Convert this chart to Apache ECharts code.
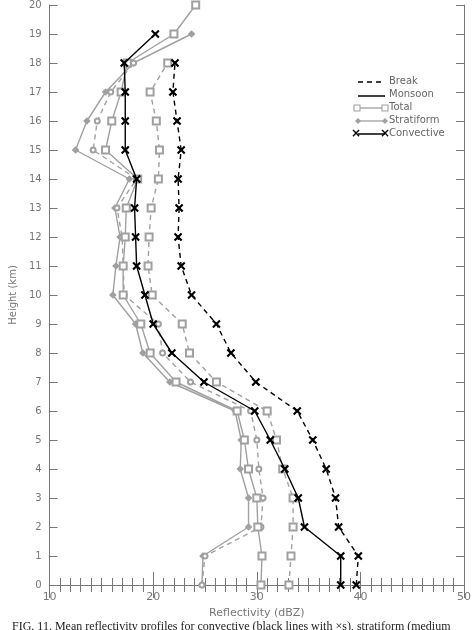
<!DOCTYPE html>
<html><head><meta charset="utf-8">
<script src="https://cdn.jsdelivr.net/npm/echarts@6/dist/echarts.min.js"></script>
<style>html,body{margin:0;padding:0;background:#fff}#c{width:474px;height:630px}</style>
</head><body><div id="c"></div>
<script>
var heights = [0,1,2,3,4,5,6,7,8,9,10,11,12,13,14,15,16,17,18,19,20];
var convMonsoon = [38.1,38.1,34.6,34.0,32.7,31.3,29.8,24.9,21.8,20.0,19.2,18.4,18.3,18.2,18.4,17.3,17.3,17.3,17.2,20.2,null];
var convBreak   = [39.6,39.8,37.9,37.6,36.7,35.4,33.9,29.9,27.5,26.1,23.7,22.7,22.4,22.5,22.4,22.7,22.3,21.9,22.1,null,null];
var totMonsoon  = [30.4,30.5,30.1,30.0,29.2,28.8,28.1,22.2,19.7,18.8,17.1,17.1,17.3,17.4,18.5,15.4,16.0,16.9,17.5,22.0,24.1];
var totBreak    = [33.1,33.3,33.5,33.5,32.5,31.9,31.0,26.1,23.5,22.8,19.9,19.5,19.6,19.8,20.5,20.6,20.3,19.7,21.4,null,null];
var strMonsoon  = [24.7,24.8,29.2,29.2,28.4,28.5,27.9,21.6,19.0,18.3,16.1,16.4,16.8,16.3,17.7,12.5,13.6,15.4,18.1,23.7,null];
var strBreak    = [24.7,25.0,30.4,30.6,30.2,30.0,29.4,23.6,20.9,20.5,17.2,17.1,17.0,16.5,18.4,14.2,14.6,15.9,18.1,null,null];
var legendNames = ['Break','Monsoon','Total','Stratiform','Convective'];

var X = 'path://M0,1L1,0L5,4L9,0L10,1L6,5L10,9L9,10L5,6L1,10L0,9L4,5Z';
function pts(arr){var o=[];for(var i=0;i<arr.length;i++){if(arr[i]!=null)o.push([arr[i],heights[i]]);}return o;}
function ser(arr,color,dash,sym,size){
  return {type:'line',data:pts(arr),symbol:sym,symbolSize:size,
    lineStyle:{color:color,width:1.4,type:dash?[5,4]:'solid'},
    itemStyle:{color:color,borderColor:color,borderWidth:1.1},z:color==='#000'?5:3,animation:false};
}
var gray='#a0a0a0';
var chart = echarts.init(document.getElementById('c'));
chart.setOption({
  animation:false,
  grid:{left:33,right:8,top:2,bottom:45},
  xAxis:[{type:'value',min:10,max:50,interval:10,position:'bottom',
    axisLine:{lineStyle:{color:'#777'}},
    axisTick:{inside:true,length:13,lineStyle:{color:'#777'}},
    minorTick:{show:true,splitNumber:10,length:7,lineStyle:{color:'#777'}},
    splitLine:{show:false},
    axisLabel:{color:'#777',fontSize:11,margin:7,fontFamily:'DejaVu Sans'},
    name:'Reflectivity (dBZ)',nameLocation:'middle',nameGap:21,
    nameTextStyle:{color:'#777',fontSize:11,fontFamily:'DejaVu Sans'}},
   {type:'value',min:10,max:50,interval:10,position:'top',
    axisLine:{lineStyle:{color:'#777'}},
    axisTick:{inside:true,length:13,lineStyle:{color:'#777'}},
    minorTick:{show:true,splitNumber:10,length:7,lineStyle:{color:'#777'}},
    splitLine:{show:false},axisLabel:{show:false}}],
  yAxis:[{type:'value',min:0,max:20,interval:1,position:'left',
    axisLine:{lineStyle:{color:'#777'}},
    axisTick:{inside:true,length:8,lineStyle:{color:'#777'}},
    splitLine:{show:false},
    axisLabel:{color:'#777',fontSize:10,margin:8,fontFamily:'DejaVu Sans'},
    name:'Height (km)',nameLocation:'middle',nameGap:22,
    nameTextStyle:{color:'#777',fontSize:10,fontFamily:'DejaVu Sans'}},
   {type:'value',min:0,max:20,interval:1,position:'right',
    axisLine:{lineStyle:{color:'#777'}},
    axisTick:{inside:true,length:8,lineStyle:{color:'#777'}},
    splitLine:{show:false},axisLabel:{show:false}}],
  series:[
    ser(strMonsoon,gray,false,'diamond',6),
    ser(strBreak,gray,true,'emptyCircle',5),
    ser(totMonsoon,gray,false,'emptyRect',7),
    ser(totBreak,gray,true,'emptyRect',7),
    ser(convMonsoon,'#000',false,X,7),
    ser(convBreak,'#000',true,X,7)
  ],
  graphic:[
    {type:'line',shape:{x1:358,y1:82,x2:385,y2:82},style:{stroke:'#000',lineWidth:1.5,lineDash:[5,4]}},
    {type:'line',shape:{x1:358,y1:96,x2:385,y2:96},style:{stroke:'#000',lineWidth:1.5}},
    {type:'line',shape:{x1:358,y1:108,x2:385,y2:108},style:{stroke:gray,lineWidth:1.3}},
    {type:'rect',shape:{x:354,y:105,width:6,height:6},style:{fill:'#fff',stroke:gray,lineWidth:1.1}},
    {type:'rect',shape:{x:382,y:105,width:6,height:6},style:{fill:'#fff',stroke:gray,lineWidth:1.1}},
    {type:'line',shape:{x1:358,y1:121,x2:385,y2:121},style:{stroke:gray,lineWidth:1.3}},
    {type:'polygon',shape:{points:[[358,118],[361,121],[358,124],[355,121]]},style:{fill:gray}},
    {type:'polygon',shape:{points:[[385,118],[388,121],[385,124],[382,121]]},style:{fill:gray}},
    {type:'line',shape:{x1:358,y1:134,x2:385,y2:134},style:{stroke:'#000',lineWidth:1.5}},
    {type:'text',x:356,y:134,style:{text:'×',fill:'#000',font:'bold 12px DejaVu Sans',align:'center',verticalAlign:'middle'}},
    {type:'text',x:385,y:134,style:{text:'×',fill:'#000',font:'bold 12px DejaVu Sans',align:'center',verticalAlign:'middle'}},
    {type:'text',x:389,y:81,style:{text:legendNames[0],fill:'#666',font:'10px DejaVu Sans',verticalAlign:'middle'}},
    {type:'text',x:389,y:94,style:{text:legendNames[1],fill:'#666',font:'10px DejaVu Sans',verticalAlign:'middle'}},
    {type:'text',x:389,y:107,style:{text:legendNames[2],fill:'#666',font:'10px DejaVu Sans',verticalAlign:'middle'}},
    {type:'text',x:389,y:120,style:{text:legendNames[3],fill:'#666',font:'10px DejaVu Sans',verticalAlign:'middle'}},
    {type:'text',x:389,y:133,style:{text:legendNames[4],fill:'#666',font:'10px DejaVu Sans',verticalAlign:'middle'}},
    {type:'text',x:12,y:621,style:{text:'FIG. 11. Mean reflectivity profiles for convective (black lines with ×s), stratiform (medium',fill:'#222',font:'12px "Liberation Serif"'}}
  ]
});
</script></body></html>
